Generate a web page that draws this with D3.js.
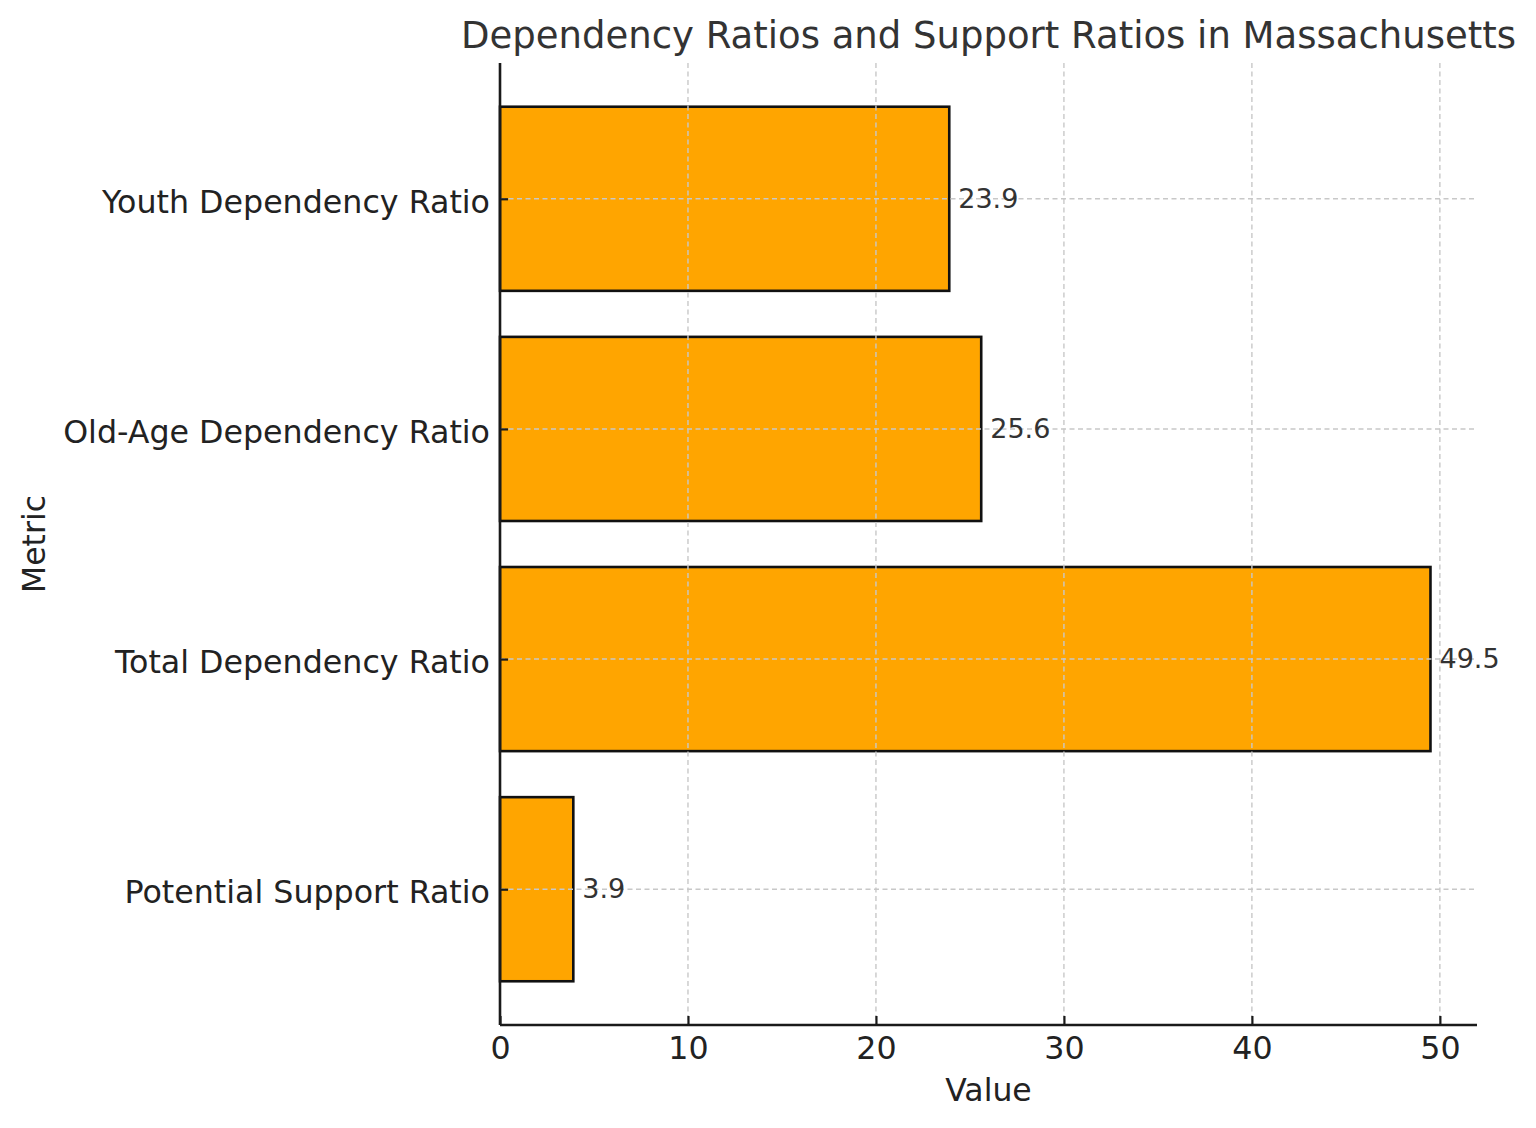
<!DOCTYPE html>
<html>
<head>
<meta charset="utf-8">
<script src="https://cdn.jsdelivr.net/npm/d3@7/dist/d3.min.js"></script>
<style>
  html, body { margin: 0; padding: 0; background: #fff; }
  svg { display: block; font-family: "DejaVu Sans", sans-serif; }
</style>
</head>
<body>
<svg id="chart" width="1536" height="1128"></svg>
<script>
const categories = ["Youth Dependency Ratio", "Old-Age Dependency Ratio", "Total Dependency Ratio", "Potential Support Ratio"];
const values = [23.9, 25.6, 49.5, 3.9];
const xTicks = [0, 10, 20, 30, 40, 50];
const titleText = "Dependency Ratios and Support Ratios in Massachusetts";
const xLabel = "Value";
const yLabel = "Metric";

const svg = d3.select("#chart");
const L = 500, R = 1477, T = 63, B = 1025;

const xMax = d3.max(values) * 1.05;
const x = d3.scaleLinear().domain([0, xMax]).range([L, R]);
const n = categories.length;
const pad = (n - 1 + 0.8) * 0.05;
const y = d3.scaleLinear().domain([-0.4 - pad, n - 1 + 0.4 + pad]).range([T, B]);
const barH = y(0.8) - y(0);

const g = svg.append("g");

// bars
g.selectAll("rect.bar").data(values).enter().append("rect")
  .attr("class", "bar")
  .attr("x", x(0))
  .attr("y", (d, i) => y(i - 0.4))
  .attr("width", d => x(d) - x(0))
  .attr("height", barH)
  .attr("fill", "#FFA500")
  .attr("stroke", "#111")
  .attr("stroke-width", 2.6);

// grid (on top)
const grid = g.append("g");
grid.selectAll("line.vg").data(xTicks).enter().append("line")
  .attr("x1", d => x(d)).attr("x2", d => x(d))
  .attr("y1", T).attr("y2", B)
  .attr("stroke", "#c8c8c8").attr("stroke-width", 1.4)
  .attr("stroke-dasharray", "5,3.5");
grid.selectAll("line.hg").data(categories).enter().append("line")
  .attr("x1", L).attr("x2", R)
  .attr("y1", (d, i) => y(i)).attr("y2", (d, i) => y(i))
  .attr("stroke", "#c8c8c8").attr("stroke-width", 1.4)
  .attr("stroke-dasharray", "5,3.5");

// bar value labels
g.selectAll("text.val").data(values).enter().append("text")
  .attr("x", d => x(d) + 9)
  .attr("y", (d, i) => y(i))
  .attr("dy", "0.33em")
  .attr("font-size", 27)
  .attr("fill", "#333")
  .text(d => d.toFixed(1));

// x axis
const xAxis = d3.axisBottom(x).tickValues(xTicks).tickSizeInner(-9).tickSizeOuter(0).tickPadding(11);
const xg = svg.append("g").attr("transform", `translate(0,${B})`).call(xAxis);
xg.select(".domain").attr("stroke", "#1a1a1a").attr("stroke-width", 2.6).attr("d", `M${L},0H${R}`);
xg.selectAll(".tick line").attr("stroke", "#1a1a1a").attr("stroke-width", 2.2);
xg.selectAll(".tick text").attr("font-size", 31.7).attr("fill", "#222").attr("font-family", "DejaVu Sans");

// y axis
const yAxis = d3.axisLeft(y).tickValues(d3.range(n)).tickFormat(i => categories[i])
  .tickSizeInner(-8).tickSizeOuter(0).tickPadding(10);
const yg = svg.append("g").attr("transform", `translate(${L},0)`).call(yAxis);
yg.select(".domain").attr("stroke", "#1a1a1a").attr("stroke-width", 2.6).attr("d", `M0,${T}V${B}`);
yg.selectAll(".tick line").attr("stroke", "#1a1a1a").attr("stroke-width", 2.2);
yg.selectAll(".tick text").attr("font-size", 31.7).attr("fill", "#222").attr("font-family", "DejaVu Sans")
  .attr("dy", "0.42em");

// labels
svg.append("text").attr("x", (L + R) / 2).attr("y", 1101).attr("text-anchor", "middle")
  .attr("font-size", 31.5).attr("fill", "#222").text(xLabel);
svg.append("text").attr("transform", `translate(45,${(T + B) / 2}) rotate(-90)`).attr("text-anchor", "middle")
  .attr("font-size", 31.5).attr("fill", "#222").text(yLabel);
svg.append("text").attr("x", (L + R) / 2).attr("y", 48).attr("text-anchor", "middle")
  .attr("font-size", 37).attr("fill", "#333").text(titleText);
</script>
</body>
</html>
